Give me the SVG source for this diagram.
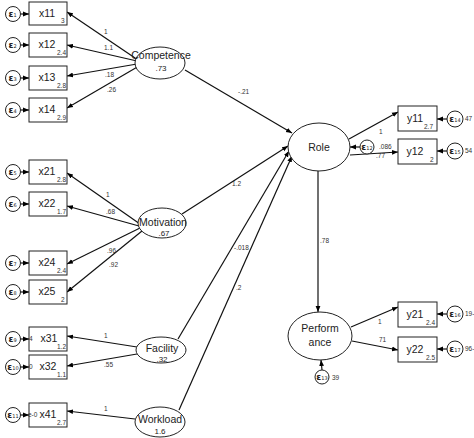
<svg xmlns="http://www.w3.org/2000/svg" width="474" height="438" viewBox="0 0 474 438">
<defs>
<marker id="ah" viewBox="0 0 10 10" refX="10" refY="5" markerWidth="6" markerHeight="6" orient="auto-start-reverse" markerUnits="userSpaceOnUse"><path d="M0,1 L10,5 L0,9 z" fill="#000"/></marker>
<style>
.bx{fill:#fff;stroke:#222;stroke-width:1}
.el{fill:#fff;stroke:#222;stroke-width:1}
.ln{stroke:#111;stroke-width:1.2;fill:none;marker-end:url(#ah)}
.t{font-family:"Liberation Sans",Arial,sans-serif;font-size:10.5px;fill:#222;text-anchor:middle}
.s{font-family:"Liberation Sans",Arial,sans-serif;font-size:6.5px;fill:#333}
.e{font-family:"DejaVu Sans",sans-serif;font-size:9px;font-weight:bold;fill:#222;text-anchor:middle}
.sub{font-size:5px;font-weight:normal}
</style>
</defs>
<rect width="474" height="438" fill="#fff"/>
<g id="connectors">
<line class="ln" x1="20.5" y1="14" x2="29" y2="14"/>
<line class="ln" x1="20.5" y1="45" x2="29" y2="45"/>
<line class="ln" x1="20.5" y1="78" x2="29" y2="78"/>
<line class="ln" x1="20.5" y1="110" x2="29" y2="110"/>
<line class="ln" x1="20.5" y1="172" x2="29" y2="172"/>
<line class="ln" x1="20.5" y1="204" x2="29" y2="204"/>
<line class="ln" x1="20.5" y1="263" x2="29" y2="263"/>
<line class="ln" x1="20.5" y1="292" x2="29" y2="292"/>
<line class="ln" x1="20.5" y1="339" x2="29" y2="339"/>
<line class="ln" x1="20.5" y1="367" x2="29" y2="367"/>
<line class="ln" x1="20.5" y1="415" x2="29" y2="415"/>
<line class="ln" x1="138" y1="60" x2="67" y2="12"/>
<line class="ln" x1="137" y1="61" x2="67" y2="45"/>
<line class="ln" x1="137" y1="64" x2="67" y2="76"/>
<line class="ln" x1="139" y1="66" x2="67" y2="108"/>
<line class="ln" x1="140" y1="224" x2="67" y2="173"/>
<line class="ln" x1="139" y1="226" x2="67" y2="206"/>
<line class="ln" x1="140" y1="228" x2="67" y2="264"/>
<line class="ln" x1="142" y1="231" x2="67" y2="292"/>
<line class="ln" x1="137" y1="347" x2="67" y2="336"/>
<line class="ln" x1="137" y1="354" x2="67" y2="366"/>
<line class="ln" x1="135" y1="419" x2="67" y2="411"/>
<line class="ln" x1="185" y1="70" x2="292" y2="133"/>
<line class="ln" x1="182" y1="214" x2="288" y2="146"/>
<line class="ln" x1="178" y1="339" x2="289" y2="151"/>
<line class="ln" x1="179" y1="410" x2="292" y2="156"/>
<line class="ln" x1="349" y1="139" x2="398" y2="112"/>
<line class="ln" x1="350" y1="155" x2="398" y2="152"/>
<line class="ln" x1="360" y1="147" x2="350" y2="147"/>
<line class="ln" x1="318" y1="171" x2="318" y2="312"/>
<line class="ln" x1="351" y1="327" x2="398" y2="307"/>
<line class="ln" x1="352" y1="341" x2="398" y2="350"/>
<line class="ln" x1="322" y1="370" x2="321" y2="360"/>
<line class="ln" x1="447" y1="119" x2="437" y2="119"/>
<line class="ln" x1="447" y1="151" x2="437" y2="151"/>
<line class="ln" x1="447" y1="314" x2="437" y2="314"/>
<line class="ln" x1="447" y1="349" x2="437" y2="349"/>
<g class="s">
<text x="104" y="34">1</text>
<text x="104" y="50">1.1</text>
<text x="105" y="77">.18</text>
<text x="107" y="92">.26</text>
<text x="106" y="197">1</text>
<text x="106" y="214">.68</text>
<text x="107" y="253">.96</text>
<text x="109" y="267">.92</text>
<text x="104" y="338">1</text>
<text x="104" y="367">.55</text>
<text x="104" y="411">1</text>
<text x="238" y="94">-.21</text>
<text x="232" y="186">1.2</text>
<text x="234" y="250">-.018</text>
<text x="236" y="290">.2</text>
<text x="379" y="134">1</text>
<text x="376" y="158">.77</text>
<text x="379" y="149">.086</text>
<text x="320" y="243">.78</text>
<text x="378" y="324">1</text>
<text x="379" y="342">71</text>
<text x="332" y="380">39</text>
<text x="465" y="121">47</text>
<text x="465" y="153">54</text>
<text x="465" y="316">19-</text>
<text x="465" y="351">96-</text>
</g>
</g>
<g id="x11"><rect class="bx" x="29" y="2" width="38" height="23"/><text class="t" x="47" y="17">x11</text><text class="s" x="61" y="23">3</text></g>
<g id="x12"><rect class="bx" x="29" y="33" width="38" height="24"/><text class="t" x="47" y="48">x12</text><text class="s" x="57" y="55">2.4</text></g>
<g id="x13"><rect class="bx" x="29" y="66" width="38" height="24"/><text class="t" x="47" y="81">x13</text><text class="s" x="57" y="88">2.8</text></g>
<g id="x14"><rect class="bx" x="29" y="98" width="38" height="24"/><text class="t" x="47" y="113">x14</text><text class="s" x="57" y="120">2.9</text></g>
<g id="x21"><rect class="bx" x="29" y="160" width="38" height="24"/><text class="t" x="47" y="175">x21</text><text class="s" x="57" y="182">2.8</text></g>
<g id="x22"><rect class="bx" x="29" y="192" width="38" height="24"/><text class="t" x="47" y="207">x22</text><text class="s" x="57" y="214">1.7</text></g>
<g id="x24"><rect class="bx" x="29" y="251" width="38" height="24"/><text class="t" x="47" y="266">x24</text><text class="s" x="57" y="273">2.4</text></g>
<g id="x25"><rect class="bx" x="29" y="280" width="38" height="24"/><text class="t" x="47" y="295">x25</text><text class="s" x="61" y="302">2</text></g>
<g id="x31"><rect class="bx" x="29" y="327" width="38" height="24"/><text class="s" x="29" y="341">4</text><text class="t" x="49" y="342">x31</text><text class="s" x="57" y="349">1.2</text></g>
<g id="x32"><rect class="bx" x="29" y="355" width="38" height="24"/><text class="s" x="29" y="369">0</text><text class="t" x="48" y="370">x32</text><text class="s" x="57" y="377">1.1</text></g>
<g id="x41"><rect class="bx" x="29" y="403" width="38" height="24"/><text class="s" x="28" y="417">e-0</text><text class="t" x="48" y="418">x41</text><text class="s" x="57" y="425">2.7</text></g>
<g id="e1"><circle class="el" cx="13" cy="14" r="7.5"/><text class="e" x="12.5" y="17">ε<tspan class="sub">1</tspan></text></g>
<g id="e2"><circle class="el" cx="13" cy="45" r="7.5"/><text class="e" x="12.5" y="48">ε<tspan class="sub">2</tspan></text></g>
<g id="e3"><circle class="el" cx="13" cy="78" r="7.5"/><text class="e" x="12.5" y="81">ε<tspan class="sub">3</tspan></text></g>
<g id="e4"><circle class="el" cx="13" cy="110" r="7.5"/><text class="e" x="12.5" y="113">ε<tspan class="sub">4</tspan></text></g>
<g id="e5"><circle class="el" cx="13" cy="172" r="7.5"/><text class="e" x="12.5" y="175">ε<tspan class="sub">5</tspan></text></g>
<g id="e6"><circle class="el" cx="13" cy="204" r="7.5"/><text class="e" x="12.5" y="207">ε<tspan class="sub">6</tspan></text></g>
<g id="e7"><circle class="el" cx="13" cy="263" r="7.5"/><text class="e" x="12.5" y="266">ε<tspan class="sub">7</tspan></text></g>
<g id="e8"><circle class="el" cx="13" cy="292" r="7.5"/><text class="e" x="12.5" y="295">ε<tspan class="sub">8</tspan></text></g>
<g id="e9"><circle class="el" cx="13" cy="339" r="7.5"/><text class="e" x="12.5" y="342">ε<tspan class="sub">9</tspan></text></g>
<g id="e10"><circle class="el" cx="13" cy="367" r="7.5"/><text class="e" x="13" y="370">ε<tspan class="sub">10</tspan></text></g>
<g id="e11"><circle class="el" cx="13" cy="415" r="7.5"/><text class="e" x="13" y="418">ε<tspan class="sub">11</tspan></text></g>
<g id="Competence"><ellipse class="el" cx="160" cy="63" rx="25" ry="16"/><text class="t" x="161" y="59">Competence</text><text class="t" x="161" y="71" style="font-size:8px">.73</text></g>
<g id="Motivation"><ellipse class="el" cx="162" cy="223" rx="24" ry="15"/><text class="t" x="163" y="226">Motivation</text><text class="t" x="164" y="236" style="font-size:8px">.67</text></g>
<g id="Facility"><ellipse class="el" cx="161" cy="350" rx="25" ry="13"/><text class="t" x="162" y="352">Facility</text><text class="t" x="162" y="362" style="font-size:8px">.32</text></g>
<g id="Workload"><ellipse class="el" cx="160" cy="422" rx="25" ry="15"/><text class="t" x="160" y="423">Workload</text><text class="t" x="160" y="434" style="font-size:8px">1.6</text></g>
<g id="Role"><ellipse class="el" cx="319" cy="147" rx="31" ry="24"/><text class="t" x="319" y="151">Role</text></g>
<g id="Performance"><ellipse class="el" cx="320" cy="336" rx="32" ry="24"/><text class="t" x="320" y="332">Perform</text><text class="t" x="320" y="346">ance</text></g>
<g id="y11"><rect class="bx" x="398" y="106" width="39" height="25"/><text class="t" x="415" y="122">y11</text><text class="s" x="424" y="129">2.7</text></g>
<g id="y12"><rect class="bx" x="398" y="139" width="39" height="25"/><text class="t" x="415" y="155">y12</text><text class="s" x="430" y="162">2</text></g>
<g id="y21"><rect class="bx" x="398" y="302" width="39" height="25"/><text class="t" x="415" y="318">y21</text><text class="s" x="426" y="325">2.4</text></g>
<g id="y22"><rect class="bx" x="398" y="337" width="39" height="25"/><text class="t" x="415" y="353">y22</text><text class="s" x="426" y="360">2.5</text></g>
<g id="e12"><circle class="el" cx="367" cy="147" r="7"/><text class="e" x="367" y="150">ε<tspan class="sub">12</tspan></text></g>
<g id="e13"><circle class="el" cx="322" cy="377" r="7"/><text class="e" x="322" y="380">ε<tspan class="sub">13</tspan></text></g>
<g id="e14"><circle class="el" cx="455" cy="119" r="8"/><text class="e" x="455" y="122">ε<tspan class="sub">14</tspan></text></g>
<g id="e15"><circle class="el" cx="455" cy="151" r="8"/><text class="e" x="455" y="154">ε<tspan class="sub">15</tspan></text></g>
<g id="e16"><circle class="el" cx="455" cy="314" r="8"/><text class="e" x="455" y="317">ε<tspan class="sub">16</tspan></text></g>
<g id="e17"><circle class="el" cx="455" cy="349" r="8"/><text class="e" x="455" y="352">ε<tspan class="sub">17</tspan></text></g>
</svg>
